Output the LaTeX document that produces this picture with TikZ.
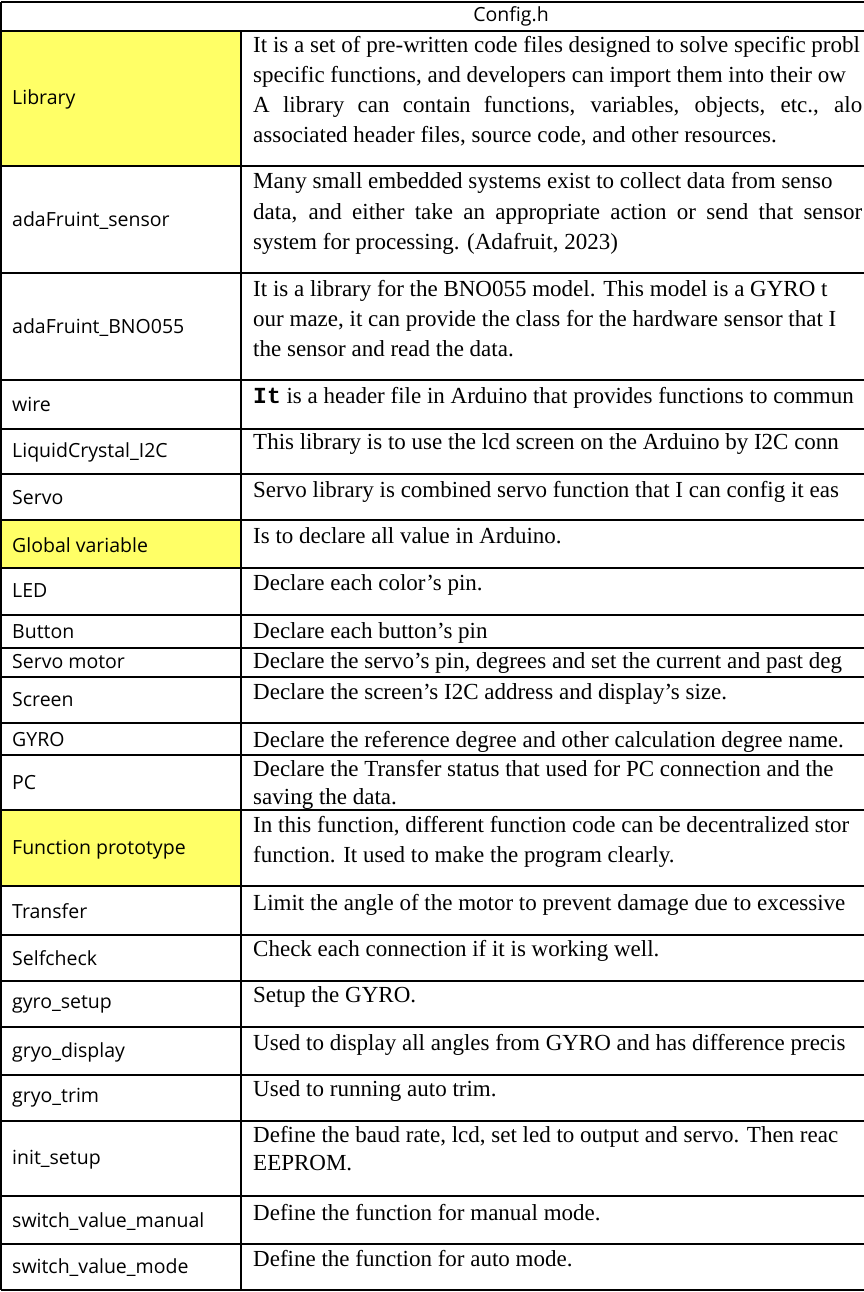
\documentclass[tikz,border=0pt]{standalone}
\usepackage{fontspec}
\setmainfont{Liberation Serif}
\newfontfamily\lab{Open Sans}
\newfontfamily\mono{Liberation Mono}
\definecolor{hly}{HTML}{FFFF66}
\begin{document}
\begin{tikzpicture}[x=1pt,y=-1pt,
  txt/.style={anchor=base west,inner sep=0pt,font=\fontsize{23}{27}\selectfont},
  lbl/.style={anchor=west,inner sep=0pt,font=\lab\fontsize{19.5}{23}\selectfont},
  hl/.style={fill=hly}]
\useasboundingbox (0,0) rectangle (864,1292);
\fill[hl] (1,31) rectangle (241,166);
\fill[hl] (1,520) rectangle (241,568);
\fill[hl] (1,810) rectangle (241,886);
\begin{scope}
\clip (0,0) rectangle (864,1292);
\foreach \y in {2,31,166,273,380,429,474,520,568,615,648,677,723,755,810,886,935,981,1027,1075,1121,1196,1244,1290}
  \draw[line width=1.2pt] (1,\y) -- (870,\y);
\draw[line width=1.2pt] (1,2) -- (1,1290);
\draw[line width=1.2pt] (241,31) -- (241,1290);
\node[lbl,anchor=center] (hd) at (511,16) {Config.h};
\node[lbl] (l1) at (12,99) {Library};
\node[lbl] (l2) at (12,221) {adaFruint\_sensor};
\node[lbl] (l3) at (12,328) {adaFruint\_BNO055};
\node[lbl] (l4) at (12,404) {wire};
\node[lbl] (l5) at (12,452) {LiquidCrystal\_I2C};
\node[lbl] (l6) at (12,498) {Servo};
\node[lbl] (l7) at (12,545) {Global variable};
\node[lbl] (l8) at (12,591) {LED};
\node[lbl] (l9) at (12,632) {Button};
\node[lbl] (l10) at (12,662) {Servo motor};
\node[lbl] (l11) at (12,700) {Screen};
\node[lbl] (l12) at (12,740) {GYRO};
\node[lbl] (l13) at (12,783) {PC};
\node[lbl] (l14) at (12,850) {Function prototype};
\node[lbl] (l15) at (12,911) {Transfer};
\node[lbl] (l16) at (12,958) {Selfcheck};
\node[lbl] (l17) at (12,1004) {gyro\_setup};
\node[lbl] (l18) at (12,1052) {gryo\_display};
\node[lbl] (l19) at (12,1098) {gryo\_trim};
\node[lbl] (l20) at (12,1160) {init\_setup};
\node[lbl] (l21) at (12,1222) {switch\_value\_manual};
\node[lbl] (l22) at (12,1268) {switch\_value\_mode};
\node[txt] (d1a) at (253,53) {It is a set of pre-written code files designed to solve specific probl};
\node[txt] (d1b) at (253,83) {specific functions, and developers can import them into their ow};
\node[txt] (d1c) at (253,113) {\makebox[609pt][s]{A library can contain functions, variables, objects, etc., alo}};
\node[txt] (d1d) at (253,143) {associated header files, source code, and other resources.};
\node[txt] (d2a) at (253,189) {Many small embedded systems exist to collect data from senso};
\node[txt] (d2b) at (253,219) {\makebox[609pt][s]{data, and either take an appropriate action or send that sensor}};
\node[txt] (d2c) at (253,249) {system for processing. (Adafruit, 2023)};
\node[txt] (d3a) at (253,296) {It is a library for the BNO055 model. This model is a GYRO t};
\node[txt] (d3b) at (253,326) {our maze, it can provide the class for the hardware sensor that I};
\node[txt] (d3c) at (253,356) {the sensor and read the data.};
\node[txt] (d4) at (253,403) {{\mono\bfseries It} is a header file in Arduino that provides functions to commun};
\node[txt] (d5) at (253,449) {This library is to use the lcd screen on the Arduino by I2C conn};
\node[txt] (d6) at (253,497) {Servo library is combined servo function that I can config it eas};
\node[txt] (d7) at (253,543) {Is to declare all value in Arduino.};
\node[txt] (d8) at (253,590) {Declare each color’s pin.};
\node[txt] (d9) at (253,638) {Declare each button’s pin};
\node[txt] (d10) at (253,668) {Declare the servo’s pin, degrees and set the current and past deg};
\node[txt] (d11) at (253,699) {Declare the screen’s I2C address and display’s size.};
\node[txt] (d12) at (253,747) {Declare the reference degree and other calculation degree name.};
\node[txt] (d13a) at (253,776) {Declare the Transfer status that used for PC connection and the};
\node[txt] (d13b) at (253,804) {saving the data.};
\node[txt] (d14a) at (253,832) {In this function, different function code can be decentralized stor};
\node[txt] (d14b) at (253,862) {function. It used to make the program clearly.};
\node[txt] (d15) at (253,910) {Limit the angle of the motor to prevent damage due to excessive};
\node[txt] (d16) at (253,956) {Check each connection if it is working well.};
\node[txt] (d17) at (253,1002) {Setup the GYRO.};
\node[txt] (d18) at (253,1050) {Used to display all angles from GYRO and has difference precis};
\node[txt] (d19) at (253,1096) {Used to running auto trim.};
\node[txt] (d20a) at (253,1142) {Define the baud rate, lcd, set led to output and servo. Then reac};
\node[txt] (d20b) at (253,1170) {EEPROM.};
\node[txt] (d21) at (253,1220) {Define the function for manual mode.};
\node[txt] (d22) at (253,1266) {Define the function for auto mode.};
\end{scope}
\end{tikzpicture}
\end{document}
